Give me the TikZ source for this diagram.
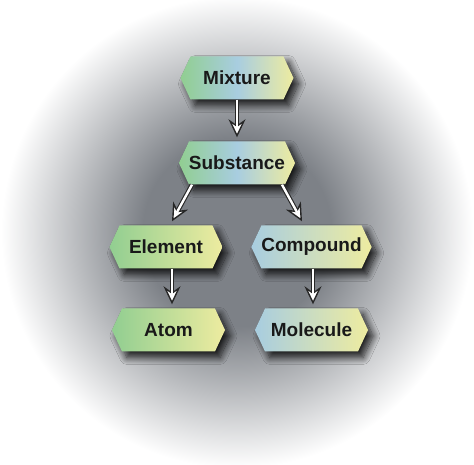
\documentclass[tikz,border=0pt]{standalone}
\usepackage{fontspec}
\setmainfont{Liberation Sans}
\usepackage{tikz}
\usetikzlibrary{shapes.symbols,arrows.meta,shadows.blur}
\definecolor{leafgreen}{RGB}{145,206,145}
\definecolor{paleblue}{RGB}{168,205,224}
\definecolor{paleyellow}{RGB}{238,236,160}
\definecolor{globegray}{RGB}{125,129,135}
\pgfdeclareradialshading{globe}{\pgfpoint{0bp}{0bp}}{color(0bp)=(globegray); color(10bp)=(globegray); color(25bp)=(white); color(50bp)=(white)}
\tikzset{hexa/.style={signal, signal to=east and west, signal pointer angle=130, minimum width=113pt, minimum height=43pt, inner sep=0pt, font=\bfseries\fontsize{19}{19}\selectfont, text={black!90}, blur shadow={shadow xshift=5pt, shadow yshift=-6pt, shadow blur radius=7pt, shadow blur steps=12, shadow opacity=85}},
gby/.style={left color=leafgreen, right color=paleyellow, middle color=paleblue},
gy/.style={left color=leafgreen, right color=paleyellow},
by/.style={left color=paleblue, right color=paleyellow},
arr/.style={draw=black!85, line width=4.6pt, -{Stealth[length=18pt, width=17pt, inset=6pt, fill=white, line width=1.4pt]}, postaction={draw=white, line width=2.4pt, -, shorten >=10pt}}}

\begin{document}
\begin{tikzpicture}[x=1pt,y=1pt]
\useasboundingbox (0,0) rectangle (474,465);
\shade[shading=globe] (237,233) circle (236);
\path
\foreach \n/\x/\y/\c in {Mixture/237/387/gby,Substance/237/302/gby,Element/166/218/gy,Compound/311.5/218/by,Atom/168.5/135/gy,Molecule/311.5/135/by}{(\x,\y)node[hexa,\c](\n){\n}}
;
\foreach \a/\b/\s/\t in {Mixture/Substance/0/0,Substance/Element/-45/6,Substance/Compound/45/-9.5,Element/Atom/6/3.5,Compound/Molecule/1.5/1.5}{
\draw[arr] ([xshift=\s pt]\a.south) -- ([xshift=\t pt,yshift=4pt]\b.north);
}
\end{tikzpicture}
\end{document}
